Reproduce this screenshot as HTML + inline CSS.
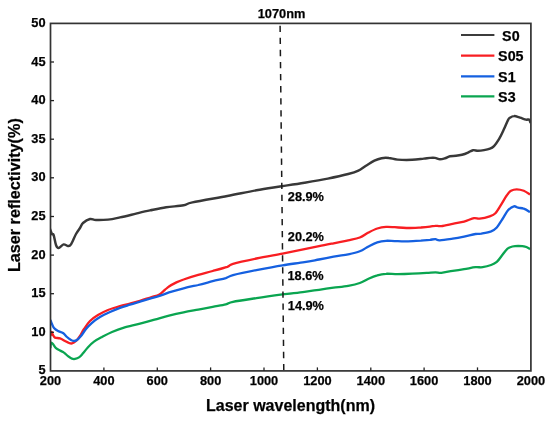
<!DOCTYPE html>
<html><head><meta charset="utf-8"><title>Laser reflectivity</title>
<style>
html,body{margin:0;padding:0;background:#fff;}
body{width:550px;height:422px;overflow:hidden;}
svg{display:block;}
text{font-family:"Liberation Sans",sans-serif;font-weight:bold;fill:#000;}
.tk{font-size:12.8px;stroke:#111;stroke-width:0.25px;}
.an{font-size:12.75px;stroke:#111;stroke-width:0.25px;}
.lg{font-size:14.3px;stroke:#111;stroke-width:0.25px;}
.ax{font-size:16px;stroke:#111;stroke-width:0.25px;}
</style></head><body>
<svg width="550" height="422" viewBox="0 0 550 422">
<rect x="0" y="0" width="550" height="422" fill="#ffffff"/>

<clipPath id="pc"><rect x="50.5" y="23.4" width="480.4" height="347.5"/></clipPath>
<g clip-path="url(#pc)" fill="none" stroke-width="2.3" stroke-linejoin="round" stroke-linecap="butt">
<path d="M50.4,348.0 C50.5,347.2 50.6,343.7 51.0,343.0 C51.4,342.4 52.2,343.2 53.0,344.0 C53.8,344.9 54.8,347.0 56.0,348.1 C57.2,349.2 58.7,349.8 60.0,350.5 C61.3,351.3 62.7,351.6 64.0,352.6 C65.3,353.5 66.7,355.2 68.0,356.2 C69.3,357.3 70.8,358.2 72.0,358.7 C73.2,359.1 73.8,359.2 75.0,358.9 C76.2,358.7 77.7,358.3 79.0,357.4 C80.3,356.5 81.5,355.0 83.0,353.3 C84.5,351.6 86.2,349.2 88.0,347.2 C89.8,345.3 91.7,343.4 94.0,341.7 C96.3,340.0 99.0,338.6 102.0,337.0 C105.0,335.4 108.3,333.6 112.0,332.0 C115.7,330.4 119.3,329.0 124.0,327.6 C128.7,326.2 134.9,325.0 140.0,323.6 C145.1,322.3 149.7,321.0 154.5,319.6 C159.3,318.3 164.2,316.8 169.0,315.6 C173.8,314.4 178.7,313.3 183.6,312.3 C188.5,311.3 193.3,310.5 198.2,309.6 C203.0,308.7 208.1,307.8 212.7,306.9 C217.3,306.0 222.4,305.3 225.8,304.4 C229.2,303.6 227.9,302.8 233.0,301.8 C238.1,300.7 248.1,299.4 256.4,298.2 C264.6,296.9 274.5,295.5 282.5,294.4 C290.5,293.4 298.4,292.6 304.5,291.8 C310.6,291.0 314.1,290.5 319.0,289.8 C323.9,289.1 328.7,288.3 333.6,287.6 C338.5,287.0 343.8,286.6 348.2,285.8 C352.6,285.0 356.4,284.2 359.8,283.0 C363.2,281.8 365.6,280.0 368.5,278.7 C371.4,277.4 374.4,276.1 377.3,275.3 C380.2,274.4 382.6,273.9 386.0,273.8 C389.4,273.6 393.2,274.2 397.6,274.2 C402.0,274.2 407.4,274.0 412.2,273.7 C417.0,273.5 422.8,273.1 426.7,272.8 C430.6,272.6 433.1,272.3 435.5,272.3 C437.9,272.3 438.5,273.0 441.4,272.8 C444.3,272.5 448.9,271.5 452.7,270.9 C456.5,270.3 460.3,269.8 464.1,269.2 C467.9,268.6 472.4,267.5 475.5,267.2 C478.6,266.9 480.0,267.6 482.6,267.2 C485.2,266.8 488.7,265.9 491.1,265.0 C493.5,264.2 494.9,263.6 496.8,261.9 C498.7,260.2 500.8,257.0 502.5,254.8 C504.2,252.6 505.7,250.3 507.3,248.9 C508.9,247.5 510.6,247.0 512.4,246.5 C514.2,246.0 516.0,245.8 518.1,245.8 C520.2,245.9 523.2,246.1 525.2,246.7 C527.2,247.2 529.2,248.7 530.0,249.1" stroke="#0aa550"/>
<path d="M50.4,336.0 C50.6,335.3 51.2,332.2 51.6,332.0 C52.0,331.8 52.4,334.1 53.0,335.0 C53.6,335.9 53.8,337.0 55.0,337.6 C56.2,338.2 58.3,337.8 60.0,338.4 C61.7,339.0 63.5,340.2 65.0,341.0 C66.5,341.8 67.8,342.6 69.0,343.0 C70.2,343.4 70.8,343.7 72.0,343.4 C73.2,343.1 74.7,342.2 76.0,341.0 C77.3,339.8 78.7,338.0 80.0,336.0 C81.3,334.0 82.3,331.5 84.0,329.0 C85.7,326.5 87.7,323.3 90.0,321.0 C92.3,318.7 95.0,316.8 98.0,315.0 C101.0,313.2 104.3,311.5 108.0,310.0 C111.7,308.5 116.3,307.1 120.0,306.0 C123.7,304.9 126.7,304.4 130.0,303.5 C133.3,302.6 136.4,301.9 140.0,300.8 C143.6,299.7 148.4,298.0 151.6,297.0 C154.8,296.0 156.7,296.0 158.9,294.8 C161.1,293.7 163.0,291.4 164.7,290.0 C166.4,288.7 167.1,287.8 169.0,286.5 C170.9,285.2 174.0,283.6 176.4,282.4 C178.8,281.2 180.0,280.7 183.6,279.5 C187.2,278.2 193.3,276.3 198.2,274.9 C203.0,273.5 207.8,272.4 212.7,271.0 C217.5,269.7 223.9,268.0 227.3,266.9 C230.7,265.7 228.2,265.2 233.0,263.8 C237.8,262.4 248.1,260.2 256.4,258.5 C264.6,256.8 274.5,255.2 282.5,253.7 C290.5,252.1 298.4,250.4 304.5,249.2 C310.6,247.9 314.1,247.2 319.0,246.2 C323.9,245.3 328.7,244.3 333.6,243.3 C338.5,242.3 343.8,241.4 348.2,240.4 C352.6,239.4 356.4,238.8 359.8,237.5 C363.2,236.2 365.6,234.0 368.5,232.5 C371.4,231.0 374.4,229.4 377.3,228.5 C380.2,227.6 383.1,227.1 386.0,226.9 C388.9,226.7 391.3,227.0 394.7,227.2 C398.1,227.4 402.0,228.0 406.4,228.0 C410.8,228.1 417.0,227.7 420.9,227.5 C424.8,227.2 427.6,226.9 430.0,226.6 C432.4,226.3 433.6,225.9 435.5,225.8 C437.4,225.7 438.4,226.5 441.3,226.1 C444.2,225.8 448.9,224.6 452.7,223.8 C456.5,223.0 460.6,222.5 464.1,221.6 C467.7,220.6 471.4,218.6 474.0,218.1 C476.6,217.7 477.1,218.9 479.7,218.6 C482.3,218.3 487.1,217.2 489.7,216.3 C492.3,215.4 493.5,215.1 495.4,213.2 C497.3,211.3 499.1,207.8 501.0,204.8 C502.9,201.9 505.0,197.8 506.7,195.5 C508.4,193.1 509.3,191.8 511.0,190.8 C512.7,189.8 514.6,189.3 516.7,189.3 C518.8,189.3 521.6,189.9 523.8,190.8 C526.0,191.7 529.0,193.9 530.0,194.5" stroke="#f81e22"/>
<path d="M50.4,320.0 C50.7,320.7 51.4,322.7 52.0,324.0 C52.6,325.3 53.0,326.8 54.0,328.0 C55.0,329.2 56.5,330.2 58.0,331.0 C59.5,331.8 61.5,332.0 63.0,333.0 C64.5,334.0 65.7,335.8 67.0,337.0 C68.3,338.2 69.8,339.3 71.0,340.0 C72.2,340.7 73.0,341.0 74.0,341.0 C75.0,341.0 75.8,340.8 77.0,340.0 C78.2,339.2 79.5,337.8 81.0,336.0 C82.5,334.2 84.2,331.2 86.0,329.0 C87.8,326.8 89.7,324.8 92.0,322.8 C94.3,320.8 97.0,318.8 100.0,317.0 C103.0,315.2 106.7,313.5 110.0,312.0 C113.3,310.5 116.7,309.0 120.0,307.8 C123.3,306.6 126.7,305.7 130.0,304.7 C133.3,303.7 136.4,302.8 140.0,301.7 C143.6,300.6 148.0,299.2 151.6,298.1 C155.2,297.0 158.9,296.2 161.8,295.2 C164.7,294.3 165.4,293.6 169.0,292.4 C172.6,291.3 178.7,289.6 183.6,288.3 C188.5,287.1 193.3,286.1 198.2,285.0 C203.0,283.8 208.1,282.4 212.7,281.2 C217.3,280.0 222.4,279.1 225.8,278.1 C229.2,277.0 227.9,276.4 233.0,275.1 C238.1,273.8 248.1,271.7 256.4,270.1 C264.6,268.5 274.5,266.6 282.5,265.3 C290.5,264.0 298.4,263.1 304.5,262.1 C310.6,261.2 314.1,260.4 319.0,259.5 C323.9,258.6 328.7,257.6 333.6,256.7 C338.5,255.8 343.8,255.1 348.2,254.3 C352.6,253.4 356.4,252.6 359.8,251.3 C363.2,250.0 365.6,247.9 368.5,246.4 C371.4,244.9 374.4,243.2 377.3,242.3 C380.2,241.4 383.1,241.0 386.0,240.8 C388.9,240.6 391.3,241.0 394.7,241.1 C398.1,241.2 402.0,241.5 406.4,241.4 C410.8,241.3 417.0,240.8 420.9,240.6 C424.8,240.3 427.6,240.0 430.0,239.8 C432.4,239.5 433.9,239.1 435.5,239.2 C437.1,239.3 436.9,240.4 439.8,240.3 C442.7,240.2 448.6,239.3 452.7,238.7 C456.8,238.1 460.3,237.4 464.1,236.6 C467.9,235.8 472.6,234.5 475.5,234.0 C478.4,233.5 478.6,234.1 481.2,233.7 C483.8,233.2 488.5,232.4 491.1,231.4 C493.7,230.3 494.9,229.6 496.8,227.5 C498.7,225.4 500.6,221.9 502.5,219.0 C504.4,216.1 506.3,212.2 508.2,210.1 C510.1,208.0 512.2,206.7 513.9,206.3 C515.5,205.9 516.5,207.3 518.1,207.7 C519.8,208.1 521.8,207.9 523.8,208.7 C525.8,209.4 529.0,211.5 530.0,212.1" stroke="#1560e0"/>
<path d="M50.0,229.0 C50.3,229.8 51.4,233.0 52.0,234.0 C52.6,235.0 52.9,233.2 53.6,235.0 C54.3,236.8 55.2,242.8 56.0,245.0 C56.8,247.2 57.3,248.1 58.6,248.0 C59.9,247.9 62.0,244.7 63.6,244.4 C65.2,244.1 66.8,246.0 68.0,246.0 C69.2,246.0 69.7,246.4 71.0,244.4 C72.3,242.4 74.5,236.7 76.0,234.0 C77.5,231.3 78.8,229.8 80.0,228.0 C81.2,226.2 81.3,224.5 83.0,223.0 C84.7,221.5 87.8,219.5 90.0,219.0 C92.2,218.5 93.0,219.9 96.0,220.0 C99.0,220.1 104.0,220.0 108.0,219.6 C112.0,219.2 115.3,218.4 120.0,217.4 C124.7,216.4 131.0,214.8 136.0,213.6 C141.0,212.4 145.0,211.4 150.0,210.4 C155.0,209.4 160.6,208.2 166.2,207.3 C171.8,206.5 179.2,206.1 183.6,205.3 C188.0,204.5 185.1,204.0 192.4,202.4 C199.7,200.8 216.6,198.0 227.3,196.0 C238.0,194.0 247.3,191.9 256.4,190.3 C265.5,188.7 273.7,187.5 281.7,186.2 C289.7,185.0 296.8,184.0 304.5,182.7 C312.2,181.4 320.5,180.0 327.8,178.6 C335.1,177.1 343.1,175.3 348.2,174.0 C353.3,172.7 355.5,172.0 358.4,170.6 C361.3,169.3 362.9,167.7 365.6,166.0 C368.3,164.4 371.7,162.1 374.4,160.7 C377.1,159.4 379.2,158.7 381.6,158.2 C384.0,157.7 386.2,157.7 388.9,158.0 C391.6,158.2 393.7,159.3 397.6,159.6 C401.5,159.9 407.8,160.0 412.2,159.8 C416.6,159.6 420.8,158.9 423.8,158.6 C426.8,158.3 428.1,158.0 430.0,157.9 C431.9,157.8 433.3,157.7 435.0,157.9 C436.7,158.1 438.3,159.2 440.0,159.3 C441.7,159.3 443.3,158.8 445.0,158.3 C446.7,157.8 448.2,156.6 450.0,156.2 C451.8,155.8 454.0,156.1 456.0,155.8 C458.0,155.6 460.0,155.3 462.0,154.8 C464.0,154.3 466.2,153.4 468.0,152.6 C469.8,151.8 471.3,150.5 473.0,150.2 C474.7,149.9 476.2,150.8 478.0,150.8 C479.8,150.8 482.0,150.5 484.0,150.1 C486.0,149.8 488.3,149.4 490.0,148.7 C491.7,148.1 492.5,147.7 494.0,146.1 C495.5,144.5 497.3,141.9 499.0,139.1 C500.7,136.3 502.5,132.3 504.0,129.1 C505.5,125.9 507.0,122.0 508.0,120.1 C509.0,118.2 509.0,118.3 510.0,117.7 C511.0,117.0 512.3,116.1 514.0,116.1 C515.7,116.0 518.0,117.0 520.0,117.6 C522.0,118.2 524.5,119.3 526.0,119.6 C527.5,119.9 528.2,119.0 529.0,119.6 C529.8,120.2 530.3,122.4 530.6,123.0" stroke="#383838" stroke-width="2.45"/>
</g>
<line x1="280.1" y1="25.7" x2="283.8" y2="372.2" stroke="#1a1a1a" stroke-width="1.5" stroke-dasharray="6.3 5.78"/>
<rect x="50.5" y="23.4" width="480.4" height="347.5" fill="none" stroke="#333" stroke-width="1.7"/>
<g stroke="#222" stroke-width="1.3">
<line x1="103.9" y1="370.9" x2="103.9" y2="367.4"/>
<line x1="157.3" y1="370.9" x2="157.3" y2="367.4"/>
<line x1="210.6" y1="370.9" x2="210.6" y2="367.4"/>
<line x1="264.0" y1="370.9" x2="264.0" y2="367.4"/>
<line x1="317.4" y1="370.9" x2="317.4" y2="367.4"/>
<line x1="370.8" y1="370.9" x2="370.8" y2="367.4"/>
<line x1="424.1" y1="370.9" x2="424.1" y2="367.4"/>
<line x1="477.5" y1="370.9" x2="477.5" y2="367.4"/>
<line x1="50.5" y1="332.3" x2="54.0" y2="332.3"/>
<line x1="50.5" y1="293.7" x2="54.0" y2="293.7"/>
<line x1="50.5" y1="255.1" x2="54.0" y2="255.1"/>
<line x1="50.5" y1="216.5" x2="54.0" y2="216.5"/>
<line x1="50.5" y1="177.8" x2="54.0" y2="177.8"/>
<line x1="50.5" y1="139.2" x2="54.0" y2="139.2"/>
<line x1="50.5" y1="100.6" x2="54.0" y2="100.6"/>
<line x1="50.5" y1="62.0" x2="54.0" y2="62.0"/>
</g>
<text class="tk" x="50.5" y="384.5" text-anchor="middle">200</text>
<text class="tk" x="103.9" y="384.5" text-anchor="middle">400</text>
<text class="tk" x="157.3" y="384.5" text-anchor="middle">600</text>
<text class="tk" x="210.6" y="384.5" text-anchor="middle">800</text>
<text class="tk" x="264.0" y="384.5" text-anchor="middle">1000</text>
<text class="tk" x="317.4" y="384.5" text-anchor="middle">1200</text>
<text class="tk" x="370.8" y="384.5" text-anchor="middle">1400</text>
<text class="tk" x="424.1" y="384.5" text-anchor="middle">1600</text>
<text class="tk" x="477.5" y="384.5" text-anchor="middle">1800</text>
<text class="tk" x="530.9" y="384.5" text-anchor="middle">2000</text>
<text class="tk" x="45.6" y="374.4" text-anchor="end">5</text>
<text class="tk" x="45.6" y="335.8" text-anchor="end">10</text>
<text class="tk" x="45.6" y="297.2" text-anchor="end">15</text>
<text class="tk" x="45.6" y="258.6" text-anchor="end">20</text>
<text class="tk" x="45.6" y="220.0" text-anchor="end">25</text>
<text class="tk" x="45.6" y="181.3" text-anchor="end">30</text>
<text class="tk" x="45.6" y="142.7" text-anchor="end">35</text>
<text class="tk" x="45.6" y="104.1" text-anchor="end">40</text>
<text class="tk" x="45.6" y="65.5" text-anchor="end">45</text>
<text class="tk" x="45.6" y="26.9" text-anchor="end">50</text>
<text class="an" style="font-size:12.8px" x="257.7" y="18.2">1070nm</text>
<text class="an" x="287.8" y="201.3">28.9%</text>
<text class="an" x="287.8" y="240.6">20.2%</text>
<text class="an" x="287.5" y="280.1">18.6%</text>
<text class="an" x="287.8" y="310.2">14.9%</text>
<line x1="461" y1="35.0" x2="494.4" y2="35.0" stroke="#3c3c3c" stroke-width="2.2"/>
<text class="lg" x="502.09999999999997" y="40.6">S0</text>
<line x1="461" y1="55.6" x2="494.4" y2="55.6" stroke="#f81e22" stroke-width="2.2"/>
<text class="lg" x="498.09999999999997" y="61.2">S05</text>
<line x1="461" y1="76.3" x2="494.4" y2="76.3" stroke="#1560e0" stroke-width="2.2"/>
<text class="lg" x="498.09999999999997" y="81.9">S1</text>
<line x1="461" y1="96.4" x2="494.4" y2="96.4" stroke="#0aa550" stroke-width="2.2"/>
<text class="lg" x="498.09999999999997" y="102.0">S3</text>
<text class="ax" x="290.5" y="410.5" text-anchor="middle">Laser wavelength(nm)</text>
<text class="ax" style="font-size:16.2px" transform="translate(20.4,195.15) rotate(-90)" text-anchor="middle">Laser reflectivity(%)</text>
</svg></body></html>
